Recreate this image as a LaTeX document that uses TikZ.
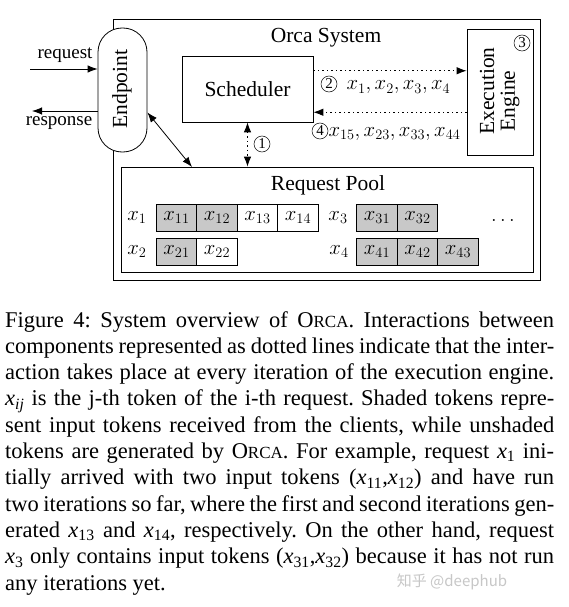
\documentclass[tikz,border=0pt]{standalone}
\usepackage{fontspec}
\setmainfont{Liberation Serif}
\newfontfamily\cjkfont{Noto Sans CJK SC}
\usetikzlibrary{arrows.meta,calc}
\definecolor{tokgray}{RGB}{200,200,200}
\newcommand\orcasc{O{\fontsize{17}{20}\selectfont RCA}}
\newcommand\cx[1]{\textit{x}\textsubscript{#1}}
\frenchspacing
\tikzset{
  dfont/.style={font=\fontsize{21.5}{25}\selectfont},
  sfont/.style={font=\fontsize{19}{22}\selectfont},
  box/.style={draw, line width=0.8pt, inner sep=0pt},
  tok/.style={draw, line width=0.8pt, minimum width=40.5pt, minimum height=27pt, inner sep=0pt, dfont},
  shtok/.style={tok, fill=tokgray},
  circ/.style={circle, draw, line width=0.5pt, inner sep=0pt, minimum size=16pt, font=\fontsize{15}{15}\selectfont},
  dotline/.style={line width=0.9pt, dash pattern=on 1.2pt off 3.3pt},
  arr/.style={line width=0.8pt},
}
\begin{document}
\begin{tikzpicture}[x=1pt, y=-1pt, >={Latex[length=10pt,width=7.5pt]}]
\useasboundingbox (0,0) rectangle (568,607);
\fill[white] (0,0) rectangle (568,607);
% outer system box
\node[box, minimum width=427pt, minimum height=261pt] (sys) at (326.5,149.5) {};
\node[dfont] (systitle) at (326,38) {Orca System};
% endpoint
\node[box, fill=white, rounded corners=24pt, minimum width=49pt, minimum height=124pt] (ep) at (122.5,90) {};
\node[dfont, rotate=90] (eptext) at (122,89) {Endpoint};
% scheduler
\node[box, minimum width=131pt, minimum height=66pt, dfont] (sch) at (247.5,89) {Scheduler};
% execution engine
\node[box, minimum width=66pt, minimum height=126pt] (ex) at (500,92) {};
\node[dfont, rotate=90] (extext1) at (487,91) {Execution};
\node[dfont, rotate=90] (extext2) at (510,101) {Engine};
\node[circ] (c3) at (522,43) {3};
% request pool
\node[box, minimum width=412pt, minimum height=105pt] (pool) at (327,219.5) {};
\node[dfont] (pooltitle) at (328,185) {Request Pool};
% tokens row 1
\node[dfont] (l1) at (137,217.5) {$x_1$};
\node[shtok] (t11) at (176.5,217.5) {$x_{11}$};
\node[shtok] (t12) at (217,217.5) {$x_{12}$};
\node[tok] (t13) at (257.5,217.5) {$x_{13}$};
\node[tok] (t14) at (298,217.5) {$x_{14}$};
\node[dfont] (l3) at (338,217.5) {$x_3$};
\node[shtok] (t31) at (377,217.5) {$x_{31}$};
\node[shtok] (t32) at (417.5,217.5) {$x_{32}$};
\node[dfont] (dots) at (503,220) {$\dots$};
% tokens row 2
\node[dfont] (l2) at (137,251.5) {$x_2$};
\node[shtok] (t21) at (176.5,251.5) {$x_{21}$};
\node[tok] (t22) at (217,251.5) {$x_{22}$};
\node[dfont] (l4) at (339,251.5) {$x_4$};
\node[shtok] (t41) at (377,251.5) {$x_{41}$};
\node[shtok] (t42) at (417.5,251.5) {$x_{42}$};
\node[shtok] (t43) at (458,251.5) {$x_{43}$};
% request / response
\coordinate (reqstart) at (30,69);
\coordinate (respend) at (32,111);
\draw[arr, ->] (reqstart) -- (reqstart -| ep.west);
\draw[arr, ->] (respend -| ep.west) -- (respend);
\node[sfont] (reqlabel) at (65,55) {request};
\node[sfont] (resplabel) at (59,123) {response};
% endpoint <-> pool
\coordinate (pooltarget) at (192,167);
\draw[arr, <->] (ep.-42) -- (pooltarget);
% scheduler <-> pool
\draw[dotline, <->] (sch.south) -- (sch.south |- pool.north);
\node[circ] (c1) at (262,144) {1};
% scheduler <-> engine
\coordinate (a2) at ($(sch.north east)!0.227!(sch.south east)$);
\coordinate (a4) at ($(sch.north east)!0.848!(sch.south east)$);
\draw[dotline, ->] (a2) -- (a2 -| ex.west);
\draw[dotline, ->] (a4 -| ex.west) -- (a4);
\node[circ] (c2) at (329,84) {2};
\node[dfont, anchor=base west] (lab2) at (343,90) {$x_1, x_2, x_3, x_4$};
\node[circ] (c4) at (320,131) {4};
\node[dfont, anchor=base west] (lab4) at (325,136) {$x_{15}, x_{23}, x_{33}, x_{44}$};
% caption
\node[anchor=north west, inner sep=0pt, text width=549pt, align=justify,
      font=\fontsize{22.5}{26.3}\selectfont] (caption) at (5,311) {%
\tolerance=9999\emergencystretch=20pt\hyphenpenalty=10000
Figure 4: System overview of \orcasc. Interactions between\linebreak
components represented as dotted lines indicate that the inter-\linebreak
action takes place at every iteration of the execution engine.\linebreak
\cx{\textit{ij}} is the j-th token of the i-th request. Shaded tokens repre-\linebreak
sent input tokens received from the clients, while unshaded\linebreak
tokens are generated by \orcasc. For example, request \cx{1} ini-\linebreak
tially arrived with two input tokens (\cx{11},\cx{12}) and have run\linebreak
two iterations so far, where the first and second iterations gen-\linebreak
erated \cx{13} and \cx{14}, respectively. On the other hand, request\linebreak
\cx{3} only contains input tokens (\cx{31},\cx{32}) because it has not run\linebreak
any iterations yet.\par};
\node[font=\cjkfont\fontsize{15}{15}\selectfont, text=black!22] (wm) at (452,582) {知乎 @deephub};
\end{tikzpicture}
\end{document}
